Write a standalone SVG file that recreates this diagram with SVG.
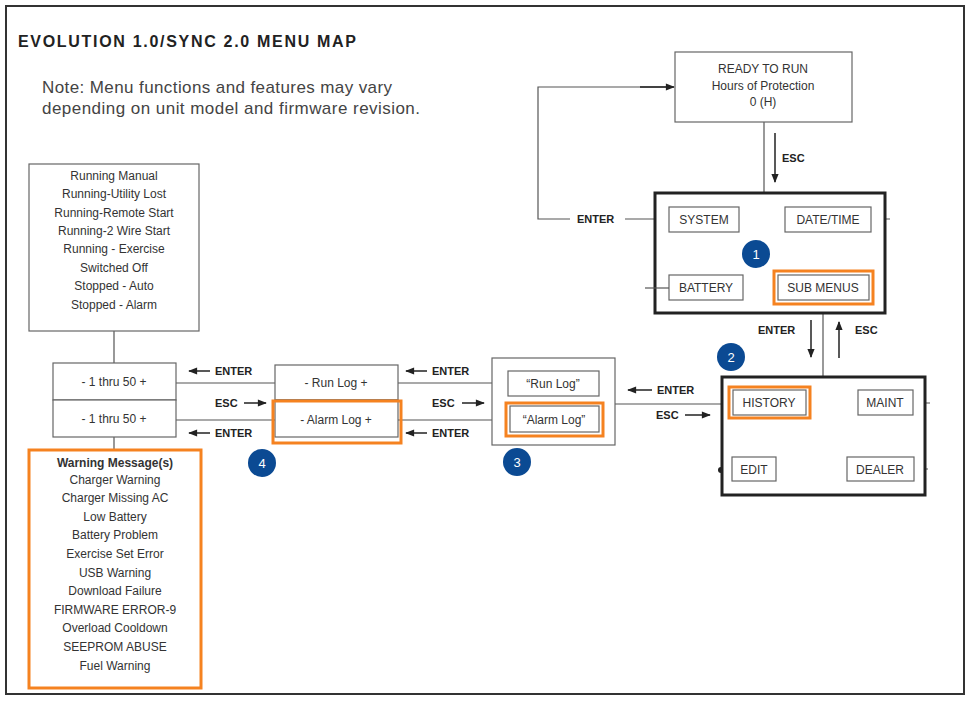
<svg xmlns="http://www.w3.org/2000/svg" width="973" height="703" viewBox="0 0 973 703">
<defs>
<marker id="ah" viewBox="0 0 10 10" refX="9" refY="5" markerWidth="8" markerHeight="6" orient="auto-start-reverse"><path d="M0,1 L10,5 L0,9 Z" fill="#222"/></marker>
<style>
text{font-family:"Liberation Sans",Arial,sans-serif;fill:#333}
.t{font-size:12px;text-anchor:middle}
.lb{font-size:11px;font-weight:bold;fill:#222}
.bx{fill:#fff;stroke:#666;stroke-width:1.2}
.thick{fill:#fff;stroke:#222;stroke-width:3}
.or{fill:none;stroke:#f58220;stroke-width:3}
.ln{stroke:#555;stroke-width:1.2;fill:none}
.ar{stroke:#222;stroke-width:1.5;fill:none;marker-end:url(#ah)}
.bd{fill:#0b4a93}
.bt{font-size:13px;fill:#fff;text-anchor:middle}
</style>
</defs>
<rect x="0" y="0" width="973" height="703" fill="#fff"/>
<rect x="6" y="6" width="958" height="688" fill="#fff" stroke="#333" stroke-width="2"/>
<text x="18" y="47" textLength="338" style="font-size:16px;font-weight:bold;fill:#222">EVOLUTION 1.0/SYNC 2.0 MENU MAP</text>
<text x="42" y="93" textLength="350" style="font-size:17px;fill:#444">Note: Menu functions and features may vary</text>
<text x="42" y="114" textLength="378" style="font-size:17px;fill:#444">depending on unit model and firmware revision.</text>

<g id="connectors">
<path class="ln" d="M764,122 V193"/>
<path class="ar" d="M775,133 V182"/>
<path class="ln" d="M655,219 H625 M570,219 H538 V87 H672"/>
<path class="ar" d="M640,87 H674"/>
<path class="ln" d="M871,219 H890 M913,403 H930 M914,469 H928 M754,481 V495"/>
<path class="ln" d="M823,304 V377"/>
<path class="ar" d="M811,320 V357"/>
<path class="ar" d="M839,358 V322"/>
<path class="ln" d="M615,404 H722"/>
<path class="ar" d="M652,390 H628"/>
<path class="ar" d="M685,415 H710"/>
<path class="ln" d="M398,383 H492 M398,420 H492"/>
<path class="ar" d="M427,371 H406"/>
<path class="ar" d="M462,403 H484"/>
<path class="ar" d="M427,433 H406"/>
<path class="ln" d="M176,383 H275 M176,420 H275"/>
<path class="ar" d="M210,371 H189"/>
<path class="ar" d="M244,403 H266"/>
<path class="ar" d="M210,433 H189"/>
<path class="ln" d="M114,331 V363 M114,437 V450"/>
<circle cx="721" cy="470" r="3" fill="#222"/>
<text x="782" y="162" class="lb">ESC</text>
<text x="577" y="223" class="lb">ENTER</text>
<text x="758" y="334" class="lb">ENTER</text>
<text x="855" y="334" class="lb">ESC</text>
<text x="657" y="394" class="lb">ENTER</text>
<text x="656" y="419" class="lb">ESC</text>
<text x="432" y="375" class="lb">ENTER</text>
<text x="432" y="407" class="lb">ESC</text>
<text x="432" y="437" class="lb">ENTER</text>
<text x="215" y="375" class="lb">ENTER</text>
<text x="215" y="407" class="lb">ESC</text>
<text x="215" y="437" class="lb">ENTER</text>
</g>

<g id="ready">
<rect class="bx" x="675" y="52" width="177" height="70"/>
<text class="t" x="763" y="73">READY TO RUN</text>
<text class="t" x="763" y="90">Hours of Protection</text>
<text class="t" x="763" y="106">0 (H)</text>
</g>

<g id="mainmenu">
<rect class="thick" x="655" y="193" width="230" height="120"/>
<rect class="bx" x="669" y="207" width="70" height="25"/><text class="t" x="704" y="224">SYSTEM</text>
<rect class="bx" x="785" y="207" width="86" height="25"/><text class="t" x="828" y="224">DATE/TIME</text>
<rect class="bx" x="669" y="275" width="74" height="25"/><text class="t" x="706" y="292">BATTERY</text>
<rect class="bx" x="778" y="275" width="91" height="25"/><text class="t" x="823" y="292">SUB MENUS</text>
<rect class="or" x="774" y="271" width="99" height="33"/>
<path class="ln" d="M645,288 H669"/>
</g>

<g id="submenus">
<rect class="thick" x="722" y="377" width="203" height="118"/>
<rect class="bx" x="733" y="390" width="73" height="25"/><text class="t" x="769" y="407">HISTORY</text>
<rect class="or" x="729" y="387" width="81" height="31"/>
<rect class="bx" x="858" y="390" width="55" height="25"/><text class="t" x="885" y="407">MAINT</text>
<rect class="bx" x="732" y="457" width="44" height="24"/><text class="t" x="754" y="474">EDIT</text>
<rect class="bx" x="847" y="457" width="67" height="24"/><text class="t" x="880" y="474">DEALER</text>
</g>

<g id="logselect">
<rect class="bx" x="492" y="358" width="123" height="87"/>
<rect class="bx" x="508" y="371" width="91" height="25"/><text class="t" x="553" y="388">“Run Log”</text>
<rect class="bx" x="510" y="406" width="89" height="26"/><text class="t" x="554" y="424">“Alarm Log”</text>
<rect class="or" x="506" y="403" width="97" height="33"/>
</g>

<g id="logs">
<rect class="bx" x="275" y="365" width="123" height="35"/><text class="t" x="336" y="387">-  Run Log  +</text>
<rect class="bx" x="275" y="400" width="123" height="37"/><text class="t" x="336" y="424">-  Alarm Log  +</text>
<rect class="or" x="273" y="401" width="128" height="42"/>
</g>

<g id="entries">
<rect class="bx" x="53" y="363" width="123" height="37"/><text class="t" x="114" y="386">-  1 thru 50  +</text>
<rect class="bx" x="53" y="400" width="123" height="37"/><text class="t" x="114" y="423">-  1 thru 50  +</text>
</g>

<g id="status">
<rect class="bx" x="29" y="164" width="170" height="167"/>
<text class="t" x="114" y="180">Running Manual</text>
<text class="t" x="114" y="198">Running-Utility Lost</text>
<text class="t" x="114" y="217">Running-Remote Start</text>
<text class="t" x="114" y="235">Running-2 Wire Start</text>
<text class="t" x="114" y="253">Running - Exercise</text>
<text class="t" x="114" y="272">Switched Off</text>
<text class="t" x="114" y="290">Stopped - Auto</text>
<text class="t" x="114" y="309">Stopped - Alarm</text>
</g>

<g id="warnings">
<rect class="or" x="29" y="450" width="172" height="238" fill="#fff"/>
<text class="t" x="115" y="467" style="font-weight:bold">Warning Message(s)</text>
<text class="t" x="115" y="484">Charger Warning</text>
<text class="t" x="115" y="502">Charger Missing AC</text>
<text class="t" x="115" y="521">Low Battery</text>
<text class="t" x="115" y="539">Battery Problem</text>
<text class="t" x="115" y="558">Exercise Set Error</text>
<text class="t" x="115" y="577">USB Warning</text>
<text class="t" x="115" y="595">Download Failure</text>
<text class="t" x="115" y="614">FIRMWARE ERROR-9</text>
<text class="t" x="115" y="632">Overload Cooldown</text>
<text class="t" x="115" y="651">SEEPROM ABUSE</text>
<text class="t" x="115" y="670">Fuel Warning</text>
</g>

<g id="badges">
<circle class="bd" cx="756" cy="254" r="14"/><text class="bt" x="756" y="259">1</text>
<circle class="bd" cx="731" cy="357" r="14"/><text class="bt" x="731" y="362">2</text>
<circle class="bd" cx="517" cy="462" r="14"/><text class="bt" x="517" y="467">3</text>
<circle class="bd" cx="262" cy="463" r="14"/><text class="bt" x="262" y="468">4</text>
</g>
</svg>
